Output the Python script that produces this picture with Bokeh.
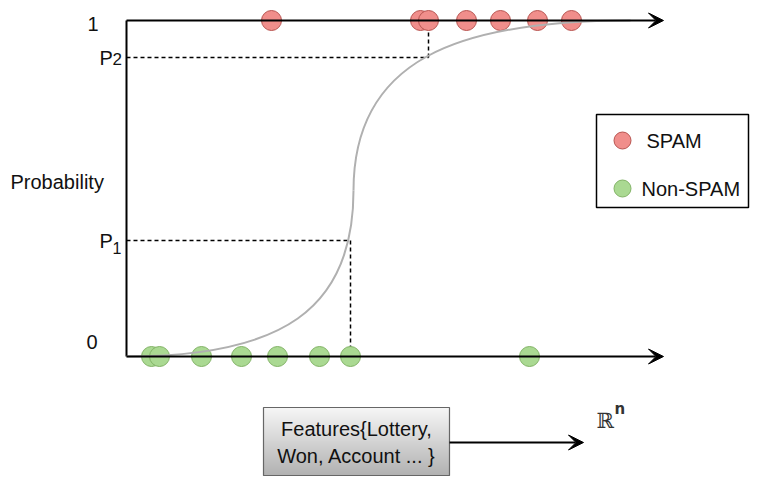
from bokeh.plotting import figure
from bokeh.models import Range1d, Arrow, VeeHead
from bokeh.core.properties import value
from bokeh.embed import file_html
from bokeh.resources import INLINE

# ---- data (diagram coordinates: x along feature axis, y as probability) ----
spam_x = [271, 420, 428, 466, 500, 537, 571]
spam_prob = [1, 1, 1, 1, 1, 1, 1]
nonspam_x = [151, 159, 201, 241, 277, 319, 350, 529]
nonspam_prob = [0, 0, 0, 0, 0, 0, 0, 0]
p1_x, p1_prob = 350, 0.345
p2_x, p2_prob = 428, 0.89
legend_labels = ["SPAM", "Non-SPAM"]
feature_lines = ["Features{Lottery,", "Won, Account ... }"]

# pixel layout helpers
X0 = 126          # vertical axis position
Y_ONE, Y_ZERO = 20, 356


def py(prob):
    return Y_ZERO - (Y_ZERO - Y_ONE) * prob


FONT = value("Liberation Sans")
FS = "20px"
RED_FILL, RED_LINE = "#f08e8b", "#b85450"
GREEN_FILL, GREEN_LINE = "#aad992", "#82b366"

p = figure(width=752, height=476, output_backend="svg", toolbar_location=None,
           x_range=Range1d(0, 752), y_range=Range1d(476, 0),
           min_border=0, background_fill_color="white")
p.axis.visible = False
p.grid.visible = False
p.outline_line_color = None

# vertical axis
p.segment(x0=[X0], y0=[py(1)], x1=[X0], y1=[py(0)], line_color="black", line_width=2)
# horizontal axes with arrows
for prob in (1, 0):
    p.add_layout(Arrow(end=VeeHead(size=15, fill_color="black", line_color="black"),
                       x_start=X0, y_start=py(prob), x_end=663, y_end=py(prob),
                       line_color="black", line_width=2))

# dashed guides
dash = dict(line_color="black", line_width=1.5, line_dash="4 3")
p.segment(x0=[X0, p2_x], y0=[py(p2_prob), py(p2_prob)], x1=[p2_x, p2_x], y1=[py(p2_prob), py(1)], **dash)
p.segment(x0=[X0, p1_x], y0=[py(p1_prob), py(p1_prob)], x1=[p1_x, p1_x], y1=[py(p1_prob), py(0)], **dash)

# points
p.scatter([x for x in spam_x], [py(v) for v in spam_prob], size=20,
          fill_color=RED_FILL, line_color=RED_LINE, line_width=1)
p.scatter([x for x in nonspam_x], [py(v) for v in nonspam_prob], size=20,
          fill_color=GREEN_FILL, line_color=GREEN_LINE, line_width=1)

# sigmoid-like curve (two bezier halves)
p.bezier(x0=[X0, 353], y0=[py(0), 190], x1=[353, 630], y1=[190, py(1)],
         cx0=[280, 353], cy0=[py(0), 60], cx1=[353, 455], cy1=[310, py(1)],
         line_color="#b0b0b0", line_width=2)

# y labels
txt = dict(text_font=FONT, text_color="#111111", text_baseline="middle", text_align="left")
p.text(x=[87], y=[23], text=["1"], text_font_size=FS, **txt)
p.text(x=[86], y=[341], text=["0"], text_font_size=FS, **txt)
p.text(x=[99], y=[57], text=["P"], text_font_size=FS, **txt)
p.text(x=[112], y=[58], text=["2"], text_font_size="17px", **txt)
p.text(x=[99], y=[240], text=["P"], text_font_size=FS, **txt)
p.text(x=[112], y=[247], text=["1"], text_font_size="16px", **txt)
p.text(x=[10], y=[181], text=["Probability"], text_font_size=FS, **txt)

# legend box
p.quad(left=[596], right=[748], top=[114], bottom=[207], fill_color=None,
       line_color="black", line_width=1.5)
p.scatter([622, 622], [140, 188], size=17, fill_color=[RED_FILL, GREEN_FILL],
          line_color=[RED_LINE, GREEN_LINE], line_width=1)
p.text(x=[646, 641], y=[140, 188], text=legend_labels, text_font_size=FS, **txt)

# features box with vertical gradient
bl, br, bt, bb = 263, 449, 407, 475
n = 34
for i in range(n):
    f = i / (n - 1)
    g = int(round(245 - f * (245 - 178)))
    color = "#%02x%02x%02x" % (g, g, g)
    y_top = bt + (bb - bt) * i / n
    y_bot = bt + (bb - bt) * (i + 1) / n
    p.quad(left=[bl], right=[br], top=[y_top], bottom=[y_bot + 0.6],
           fill_color=color, line_color=None)
p.quad(left=[bl], right=[br], top=[bt], bottom=[bb], fill_color=None,
       line_color="#666666", line_width=1.2)
p.text(x=[356, 356], y=[428, 455], text=feature_lines, text_font_size=FS,
       text_font=FONT, text_color="#111111", text_baseline="middle", text_align="center")

p.add_layout(Arrow(end=VeeHead(size=15, fill_color="black", line_color="black"),
                   x_start=br, y_start=442, x_end=583, y_end=442,
                   line_color="black", line_width=2))

# R^n label
p.text(x=[596], y=[420], text=["ℝ"], text_font=value("DejaVu Serif"), text_font_size="21px",
       text_color="#333333", text_baseline="middle", text_align="left")
p.text(x=[614], y=[408], text=["n"], text_font=value("DejaVu Sans"), text_font_size="15px",
       text_font_style="bold", text_color="#333333", text_baseline="middle", text_align="left")

open("out.html", "w").write(file_html(p, INLINE))
